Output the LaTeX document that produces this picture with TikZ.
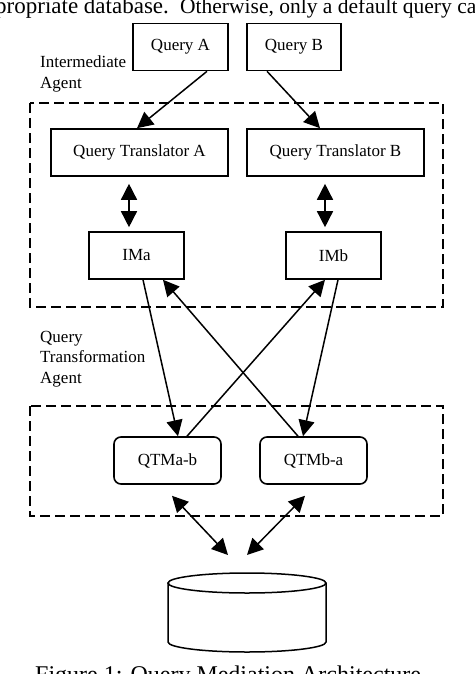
\documentclass[tikz,border=0pt]{standalone}
\usepackage{fontspec}
\setmainfont{Liberation Serif}
\usetikzlibrary{arrows.meta}
\tikzset{>={Triangle[length=16pt,width=16pt]}}

\begin{document}
\begin{tikzpicture}[x=1pt, y=-1pt]
        % y runs downward, units are pixels of the page
        \tikzstyle{box}=[draw=black, line width=1.6pt, inner sep=0pt, minimum height=47pt, font=\fontsize{17}{20}\selectfont]
        \tikzstyle{rbox}=[box, rounded corners=7pt]
        \tikzstyle{agent}=[line width=1.4pt, dash pattern=on 10pt off 5pt]
        \tikzstyle{agentname}=[inner sep=0pt, anchor=north west, align=left, font=\fontsize{17}{20.5}\selectfont]
        \tikzstyle{context}=[inner sep=0pt, anchor=base west, font=\fontsize{21.5}{24}\selectfont]
        \tikzstyle{flow}=[->, line width=1.5pt]
        \tikzstyle{both}=[<->, line width=1.5pt]

        \useasboundingbox (0,0) rectangle (474,674);
        \clip (0,0) rectangle (474,674);

        \node[context, font=\fontsize{23}{24}\selectfont] (ctxA) at (-5,14) {propriate database.};
        \node[context] (ctxB) at (180,14) {Otherwise, only a default query ca};

        \node[box, minimum width=95pt] (qa) at (180.5,47) {Query A};
        \node[box, minimum width=94pt] (qb) at (294,47) {Query B};

        \node[agentname] (imname) at (40,56) {Intermediate\\Agent};
        \draw[agent] (30,103) rectangle (443,307);
        \node[box, minimum width=177pt] (qta) at (139.5,152.5) {Query Translator A};
        \node[box, minimum width=177pt] (qtb) at (335.5,152.5) {Query Translator B};
        \node[box, minimum width=95pt] (ima) at (136.5,255.5) {IMa};
        \node[box, minimum width=95pt] (imb) at (333.5,255.5) {IMb};

        \node[agentname] (qtname) at (40,331) {Query\\Transformation\\Agent};
        \draw[agent] (30,406) rectangle (443,516);
        \node[rbox, minimum width=107pt] (qtmab) at (167.5,460.5) {QTMa-b};
        \node[rbox, minimum width=107pt] (qtmba) at (313.5,460.5) {QTMb-a};

        % database
        \coordinate (db) at (247,583);
        \draw[line width=1.5pt] (db) ellipse [x radius=79, y radius=10];
        \draw[line width=1.5pt] (168,583) -- (168,642)
                arc[start angle=180, end angle=0, x radius=79, y radius=10] -- (326,583);

        \node[context, font=\fontsize{24}{28}\selectfont] (caption) at (35,682) {Figure 1: Query Mediation Architecture};

        \draw[flow] ([xshift=26.5pt]qa.south) -- ([xshift=-2.5pt]qta.north);
        \draw[flow] ([xshift=-27pt]qb.south) -- ([xshift=-15.5pt]qtb.north);

        \draw[both, shorten <=7pt, shorten >=4pt] ([xshift=-10.5pt]qta.south) -- ([xshift=-7.5pt]ima.north);
        \draw[both, shorten <=7pt, shorten >=4pt] ([xshift=-10.5pt]qtb.south) -- ([xshift=-8.5pt]imb.north);

        \draw[flow] ([xshift=6.5pt]ima.south) -- ([xshift=10.5pt]qtmab.north);
        \draw[flow] ([xshift=4.5pt]imb.south) -- ([xshift=-10.5pt]qtmba.north);
        \draw[flow] ([xshift=19.5pt]qtmab.north) -- ([xshift=-8.5pt]imb.south);
        \draw[flow] ([xshift=-15.5pt]qtmba.north) -- ([xshift=26.5pt]ima.south);

        \draw[both] ([xshift=4.5pt, yshift=-11pt]qtmab.south) -- ([xshift=-19pt, yshift=28pt]db);
        \draw[both] ([xshift=-8.5pt, yshift=-11pt]qtmba.south) -- ([yshift=28pt]db);
\end{tikzpicture}
\end{document}
